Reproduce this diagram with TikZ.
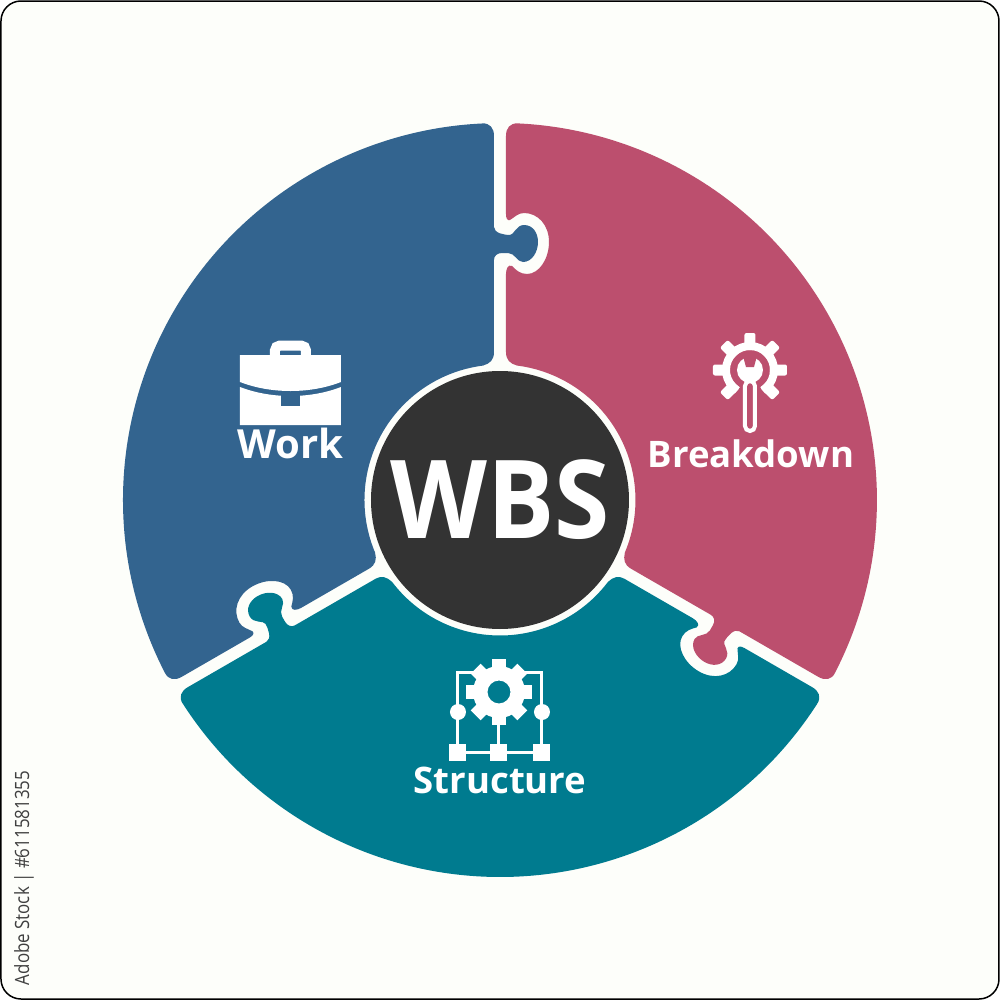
\documentclass[tikz,border=0pt]{standalone}
\usepackage{fontspec}
\setmainfont{Open Sans}
\usetikzlibrary{positioning}
\definecolor{workblue}{HTML}{33648F}
\definecolor{breakrose}{HTML}{BC4F6E}
\definecolor{structteal}{HTML}{007B8F}
\definecolor{hubdark}{HTML}{333333}
\definecolor{paper}{HTML}{FDFEFA}
\tikzset{
	lbl/.style={text=white, inner sep=0pt, font=\bfseries\fontsize{10.4pt}{12pt}\selectfont},
	hub/.style={circle, fill=hubdark, text=white, inner sep=0pt, minimum size=25.8mm, font=\bfseries\fontsize{31pt}{36pt}\selectfont},
	side/.style={rotate=90, text=black!75, inner sep=0pt, font=\fontsize{5.6pt}{7pt}\selectfont},
}
\newcommand{\puzzlepiece}{
	(-18,376.6) .. controls (-10,377) and (-6,372) .. (-6,364) -- (-6,273)
	.. controls (-6,267) and (4,265) .. (10,265)
	.. controls (14,265) and (16,275) .. (24,275)
	.. controls (33,275) and (38,267) .. (38,258)
	.. controls (38,248) and (32,238) .. (23,238)
	.. controls (17,238) and (15,247) .. (8,247) -- (2,247)
	.. controls (-3,247) and (-6,244) .. (-6,240) -- (-6,148)
	.. controls (-6,140) and (-10,136.5) .. (-17,134.4)
	arc[start angle=97.2, end angle=202.8, radius=135.5]
	.. controls ([rotate=120]10,136.5) and ([rotate=120]6,140) .. ([rotate=120]6,148) -- ([rotate=120]6,226)
	.. controls ([rotate=120]6,231) and ([rotate=120]8,236) .. ([rotate=120]12,234)
	.. controls ([rotate=120]16,230) and ([rotate=120]20,226) .. ([rotate=120]27,226)
	.. controls ([rotate=120]39,226) and ([rotate=120]49,241) .. ([rotate=120]49,258)
	.. controls ([rotate=120]49,275) and ([rotate=120]38,287) .. ([rotate=120]24,287)
	.. controls ([rotate=120]18,287) and ([rotate=120]15,283) .. ([rotate=120]10,280)
	.. controls ([rotate=120]7,279) and ([rotate=120]6,282) .. ([rotate=120]6,286) -- ([rotate=120]6,364)
	.. controls ([rotate=120]6,372) and ([rotate=120]10,377) .. ([rotate=120]18,376.6)
	arc[start angle=207.26, end angle=92.74, radius=377] -- cycle
}
\begin{document}
\begin{tikzpicture}[x=0.1mm, y=0.1mm]
	\useasboundingbox (-500,-500) rectangle (500,500);
	\fill[white] (-500,-500) rectangle (500,500);
	\draw[fill=paper, line width=0.15mm, rounded corners=2mm] (-499,-499) rectangle (499,499);
	\foreach \ang/\col in {0/workblue, -120/breakrose, -240/structteal}
		\fill[\col, rotate=\ang] \puzzlepiece;
	\node[hub] (wbs) at (0,0) {\scalebox{0.92}[1]{WBS}};

	% briefcase
	\coordinate (workicon) at (-209.5,75);
	\fill[white] (-260,145) -- (-159,145) -- (-159,118) .. controls (-190,106) and (-229,106) .. (-260,118) -- cycle;
	\fill[white] (-260,113) .. controls (-229,101) and (-190,101) .. (-159,113) -- (-159,75) -- (-260,75) -- cycle;
	\fill[workblue] (-219,106) rectangle (-200,94);
	\draw[white, line width=1mm, rounded corners=0.5mm] (-225,143) -- (-225,154.5) -- (-194,154.5) -- (-194,143);
	\node[lbl, font=\bfseries\fontsize{11.4pt}{12pt}\selectfont, below=0.2mm of workicon] (work) {Work};

	% gear and wrench
	\coordinate (breakicon) at (251,67);
	\begin{scope}[shift={(250,130)}]
		\foreach \a in {0,45,90,135,180,225,315}
			\fill[white, rotate=\a, rounded corners=0.2mm] (20,-5.5) rectangle (37,5.5);
		\draw[white, line width=0.8mm] (-58:24) arc[start angle=-58, end angle=238, radius=24];
		\draw[white, line width=0.4mm, rounded corners=0.5mm] (-5,-11) rectangle (5,-61);
		\fill[white] (0,0) circle (13);
		\fill[breakrose] (-4,3) -- (4,3) -- (7,14) -- (-7,14) -- cycle;
	\end{scope}
	\node[lbl, below=0.6mm of breakicon] (breakdown) {Breakdown};

	% gear and flow lines
	\coordinate (structicon) at (0,-261);
	\draw[white, line width=0.3mm] (-42,-252) -- (-42,-172) -- (42,-172) -- (42,-252) -- cycle;
	\draw[white, line width=0.3mm] (-1,-215) -- (-1,-252);
	\foreach \x in {-42,-1,42}
		\fill[white] (\x-8.5,-260.5) rectangle (\x+8.5,-243.5);
	\foreach \x in {-42,42}
		\fill[white] (\x,-212) circle (8);
	\begin{scope}[shift={(-1,-192)}]
		\foreach \a in {0,45,...,315}
			\fill[white, rotate=\a] (20,-7) rectangle (33,7);
		\fill[white, even odd rule] (0,0) circle (26) (0,0) circle (11.5);
	\end{scope}
	\node[lbl, below=0.55mm of structicon] (structure) {Structure};

	\node[side] (stock) at (-476,-378) {\scalebox{0.86}[1]{Adobe Stock | \#611581355}};
\end{tikzpicture}
\end{document}
